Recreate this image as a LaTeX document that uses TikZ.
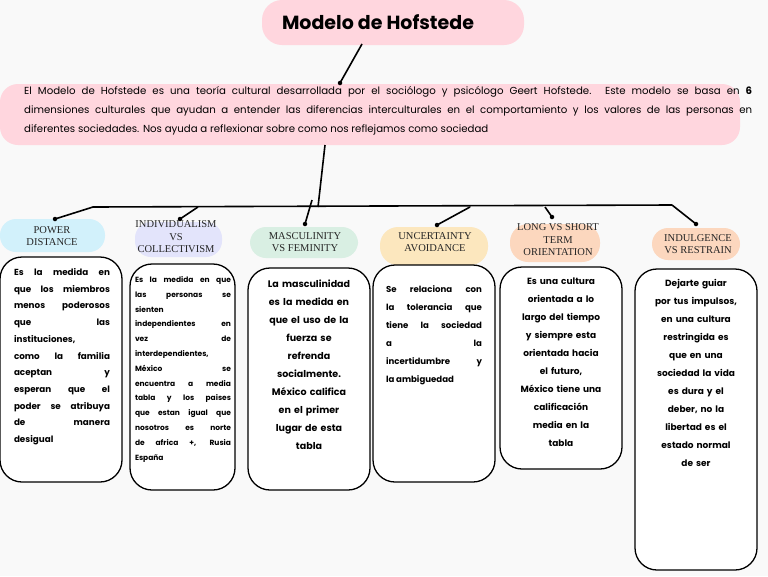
\documentclass[tikz,border=0pt]{standalone}
\usepackage[none]{hyphenat}
\usepackage{fontspec}
\setmainfont{Poppins}
\newfontfamily\hdfont{Liberation Serif}
\usetikzlibrary{positioning}
\definecolor{bg}{HTML}{F9F9F9}
\definecolor{pinkb}{HTML}{FFD6DE}
\definecolor{blueb}{HTML}{D2F1FB}
\definecolor{lavb}{HTML}{E3E4FB}
\definecolor{greenb}{HTML}{D9EFE3}
\definecolor{yelb}{HTML}{FCE7BE}
\definecolor{peachb}{HTML}{FCD7BE}
\tikzset{
  pill/.style={rounded corners=14pt,minimum height=32pt,align=center,font=\hdfont\fontsize{10.5}{12.5}\selectfont,text=black!85},
  txtbox/.style={draw=black,line width=1.3pt,rounded corners=22pt,anchor=north west},
  body/.style={anchor=north,font=\fontsize{9}{17.5}\selectfont\bfseries},
  conn/.style={line width=1.6pt},
  dotc/.style={circle,fill=black,inner sep=0pt,minimum size=4.5pt}
}
\begin{document}
\begin{tikzpicture}[x=1pt,y=-1pt]
\fill[bg] (0,0) rectangle (768,576);
\useasboundingbox (0,0) rectangle (768,576);
% title
\fill[pinkb,rounded corners=20pt] (262,0) rectangle (524,45);
\node (title) at (378,22) {\fontsize{19}{22}\selectfont\bfseries Modelo de Hofstede};
\fill[pinkb,rounded corners=18pt] (0,84) rectangle (740,145);
\node (desc) [anchor=north west,text width=728pt,align=justify,inner sep=0pt,font=\fontsize{10.2}{19}\selectfont] at (24,86) {El Modelo de Hofstede es una teoría cultural desarrollada por el sociólogo y psicólogo Geert Hofstede. Este modelo se basa en \textbf{6}\linebreak dimensiones culturales que ayudan a entender las diferencias interculturales en el comportamiento y los valores de las personas en\linebreak diferentes sociedades. Nos ayuda a reflexionar sobre como nos reflejamos como sociedad};
\coordinate (t1) at (362,44);
\coordinate (d1) at (340,83);
\draw[conn] (t1) -- (d1);
\coordinate (d2) at (325,145);
\coordinate (j) at (318,207);
\draw[conn] (d2) -- (j);
\coordinate (bl) at (93,207);
\coordinate (br) at (672,205);
\draw[conn] (bl) -- (br);
% pills
\fill[blueb,rounded corners=16pt] (0,219) rectangle (105,252);
\node[pill] (p1) at (52,236) {POWER\\DISTANCE};
\fill[lavb,rounded corners=16pt] (135,222) rectangle (222,257);
\node[pill] (p2) at (176,237) {INDIVIDUALISM\\VS\\COLLECTIVISM};
\fill[greenb,rounded corners=16pt] (250,227) rectangle (358,258);
\node[pill] (p3) at (305,242) {MASCULINITY\\VS FEMINITY};
\fill[yelb,rounded corners=18pt] (380,227) rectangle (488,265);
\node[pill] (p4) at (435,242) {UNCERTAINTY\\AVOIDANCE};
\fill[peachb,rounded corners=18pt] (510,224) rectangle (600,262);
\node[pill] (p5) at (558,240) {LONG VS SHORT\\TERM\\ORIENTATION};
\fill[peachb,rounded corners=16pt] (652,228) rectangle (740,260);
\node[pill] (p6) at (698,244) {INDULGENCE\\VS RESTRAIN};
% branches
\coordinate (c1) at (55,219); \coordinate (c2) at (180,219); \coordinate (c3) at (305,224);
\coordinate (c4) at (437,225); \coordinate (c5) at (552,217); \coordinate (c6) at (696,224);
\coordinate (b2) at (198,207); \coordinate (b3) at (312,200); \coordinate (b4) at (470,207); \coordinate (b5) at (545,207);
\draw[conn] (bl) -- (c1); \draw[conn] (b2) -- (c2); \draw[conn] (b3) -- (c3);
\draw[conn] (b4) -- (c4); \draw[conn] (b5) -- (c5); \draw[conn] (br) -- (c6);
\foreach \c in {c1,c2,c3,c4,c5,c6,d1} \node[dotc] at (\c) {};
% boxes
\draw[txtbox,fill=white] (0,257) rectangle (122,482);
\node[body,text width=96pt,align=justify,font=\fontsize{8.8}{16.7}\selectfont\bfseries] (x1) at (62,265) {Es la medida en\linebreak que los miembros\linebreak menos poderosos\linebreak que las\linebreak instituciones,\\ como la familia\linebreak aceptan y\linebreak esperan que el\linebreak poder se atribuya\linebreak de manera\linebreak desigual};
\draw[txtbox,fill=white] (130,264) rectangle (235,490);
\node[body,text width=96pt,align=justify,font=\fontsize{7.5}{14.8}\selectfont\bfseries] (x2) at (183,273) {Es la medida en que\linebreak las personas se\linebreak sienten\\ independientes en\linebreak vez de\linebreak interdependientes,\\ México se\linebreak encuentra a media\linebreak tabla y los paises\linebreak que estan igual que\linebreak nosotros es norte\linebreak de africa +, Rusia\linebreak España};
\draw[txtbox,fill=white] (248,268) rectangle (370,490);
\node[body,text width=110pt,align=center,font=\fontsize{9.5}{18}\selectfont\bfseries] (x3) at (309,276) {La masculinidad\\es la medida en\\que el uso de la\\fuerza se\\refrenda\\socialmente.\\México califica\\en el primer\\lugar de esta\\tabla};
\draw[txtbox,fill=white] (373,265) rectangle (495,482);
\node[body,text width=96pt,align=justify,font=\fontsize{8.6}{18}\selectfont\bfseries] (x4) at (434,282) {Se relaciona con\linebreak la tolerancia que\linebreak tiene la sociedad\linebreak a la\linebreak incertidumbre y\linebreak la ambiguedad};
\draw[txtbox,fill=white] (500,267) rectangle (622,469);
\node[body,text width=110pt,align=center,font=\fontsize{9}{18}\selectfont\bfseries] (x5) at (561,274) {Es una cultura\\orientada a lo\\largo del tiempo\\y siempre esta\\orientada hacia\\el futuro,\\México tiene una\\calificación\\media en la\\tabla};
\draw[txtbox,fill=white] (635,269) rectangle (757,570);
\node[body,text width=110pt,align=center,font=\fontsize{9}{18}\selectfont\bfseries] (x6) at (696,276) {Dejarte guiar\\por tus impulsos,\\en una cultura\\restringida es\\que en una\\sociedad la vida\\es dura y el\\deber, no la\\libertad es el\\estado normal\\de ser};
\end{tikzpicture}
\end{document}
